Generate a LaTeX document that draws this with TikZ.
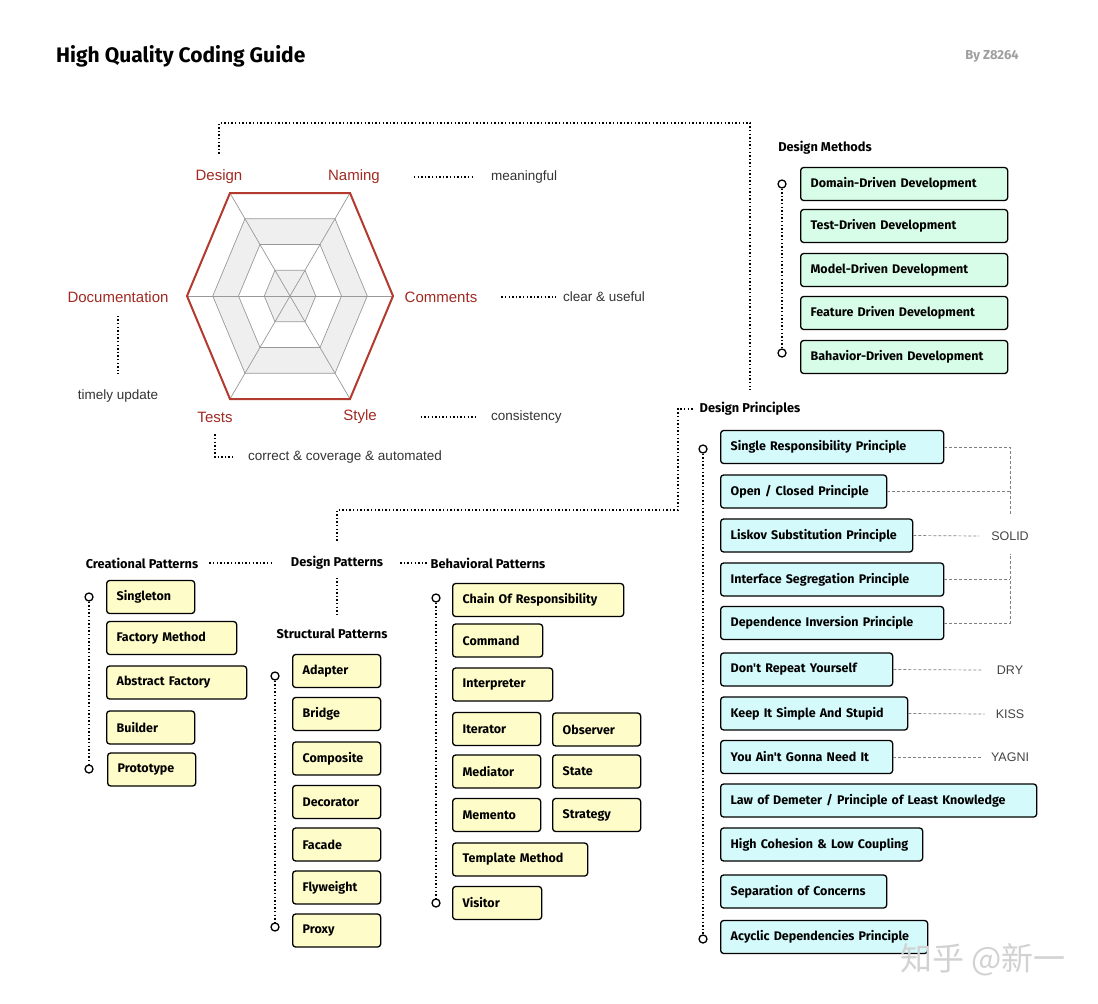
\documentclass[tikz,border=0pt]{standalone}
\usepackage{fontspec}
\setmainfont{Liberation Sans}
\newfontfamily\handfont{Fira Sans}
\newfontfamily\cjkfont{Noto Sans CJK SC}
\usetikzlibrary{positioning, calc}

\definecolor{hexred}{HTML}{B23A2F}
\definecolor{labred}{HTML}{A02A22}
\definecolor{hexfill}{HTML}{EFEFEF}
\definecolor{greenfill}{HTML}{D7FCE7}
\definecolor{cyanfill}{HTML}{D4FAFC}
\definecolor{yellowfill}{HTML}{FEFCC9}
\definecolor{notegray}{HTML}{333333}
\definecolor{taggray}{HTML}{444444}

\newcommand{\boxfont}{\handfont\bfseries\fontsize{12.5}{14}\selectfont}
\newcommand{\hexring}[1]{(103*#1,0) -- (60*#1,103*#1) -- (-60*#1,103*#1) -- (-103*#1,0) -- (-60*#1,-103*#1) -- (60*#1,-103*#1) -- cycle}

\tikzset{
  card/.style={draw, line width=1.3pt, rounded corners=3pt, anchor=west, minimum height=33pt,
    inner xsep=10pt, inner ysep=0pt, text width=#1, align=left, font=\boxfont},
  method/.style={card=#1, fill=greenfill},
  princ/.style={card=#1, fill=cyanfill},
  pattern/.style={card=#1, fill=yellowfill},
  section/.style={font=\handfont\bfseries\fontsize{12.8}{14}\selectfont, inner sep=2pt},
  hexlab/.style={font=\fontsize{15}{17}\selectfont, text=labred, inner sep=2pt},
  note/.style={font=\fontsize{13.5}{15}\selectfont, text=notegray, inner sep=0pt},
  tag/.style={font=\fontsize{12.5}{14}\selectfont, text=taggray, inner sep=0pt},
  tdot/.style={circle, draw, line width=1.3pt, fill=white, inner sep=0pt, minimum size=8pt},
  dotline/.style={line width=1.4pt, dash pattern=on 1.4pt off 2.2pt},
  dashline/.style={line width=0.7pt, draw=gray, dash pattern=on 3pt off 2pt},
  hexgrid/.style={draw=gray!80, line width=0.7pt}
}

\begin{document}
\begin{tikzpicture}[x=1pt, y=-1pt]
    \useasboundingbox[fill=white] (0,0) rectangle (1098,1004);

    % heading
    \node[font=\handfont\bfseries\fontsize{21}{24}\selectfont, anchor=west, inner sep=0pt] (title) at (56,56) {High Quality Coding Guide};
    \node[font=\handfont\bfseries\fontsize{13}{15}\selectfont, text=gray!75, anchor=east, inner sep=0pt] (by) at (1019,56) {By Z8264};

    % radar
    \begin{scope}[shift={(290,296)}]
        \fill[hexfill] \hexring{0.75};
        \fill[white] \hexring{0.5};
        \fill[hexfill] \hexring{0.25};
        \foreach \f in {0.25,0.5,0.75}
            \draw[hexgrid] \hexring{\f};
        \foreach \px/\py in {103/0, 60/103, -60/103, -103/0, -60/-103, 60/-103}
            \draw[hexgrid] (0,0) -- (\px,\py);
        \draw[hexred, line width=2pt, line join=miter] \hexring{1};
    \end{scope}

    \node[hexlab] (design) at (219,177) {Design};
    \node[hexlab] (naming) at (354,177) {Naming};
    \node[hexlab] (comments) at (441,297) {Comments};
    \node[hexlab] (docu) at (118,297) {Documentation};
    \node[hexlab] (tests) at (215,417) {Tests};
    \node[hexlab] (style) at (360,417) {Style};

    \node[note, anchor=west] (meaning) at (491,177) {meaningful};
    \node[note, anchor=west] (clear) at (563,297) {clear \& useful};
    \node[note, anchor=west] (consist) at (491,417) {consistency};
    \node[note] (timely) at (118,396) {timely update};
    \node[note, anchor=west] (correct) at (248,457) {correct \& coverage \& automated};

    \draw[dotline, shorten <=32pt, shorten >=16pt] (naming.east) -- (meaning.west);
    \draw[dotline, shorten <=22pt, shorten >=7pt] (comments.east) -- (clear.west);
    \draw[dotline, shorten <=42pt, shorten >=15pt] (style.east) -- (consist.west);
    \draw[dotline, shorten <=11pt, shorten >=16pt] (docu.south) -- (timely.north);
    \draw[dotline, shorten <=10pt, shorten >=13pt] (tests.south) |- (correct.west);

    % design methods
    \node[section] (dmeth) at (825,148) {Design Methods};
    \node[method=187] (m1) at (800,184) {Domain-Driven Development};
    \node[method=187] (m2) at (800,226) {Test-Driven Development};
    \node[method=187] (m3) at (800,270) {Model-Driven Development};
    \node[method=187] (m4) at (800,313) {Feature Driven Development};
    \node[method=187] (m5) at (800,357) {Bahavior-Driven Development};
    \node[tdot] (mt) at (782,184) {};
    \node[tdot] (mb) at (782,353) {};
    \draw[dotline] (mt) -- (mb);

    % design principles
    \node[section] (dprinc) at (750,409) {Design Principles};
    \coordinate (topturn) at (750,123);
    \draw[dotline, shorten <=14pt, shorten >=10pt] (design.north) |- (topturn) -- (dprinc.north);

    \node[princ=203] (p1) at (720,447) {Single Responsibility Principle};
    \node[princ=146] (p2) at (720,491.5) {Open / Closed Principle};
    \node[princ=172] (p3) at (720,535.5) {Liskov Substitution Principle};
    \node[princ=203] (p4) at (720,579.5) {Interface Segregation Principle};
    \node[princ=203] (p5) at (720,623) {Dependence Inversion Principle};
    \node[princ=152] (p6) at (720,669.5) {Don't Repeat Yourself};
    \node[princ=167] (p7) at (720,713.5) {Keep It Simple And Stupid};
    \node[princ=152] (p8) at (720,757) {You Ain't Gonna Need It};
    \node[princ=296] (p9) at (720,800.5) {Law of Demeter / Principle of Least Knowledge};
    \node[princ=182] (p10) at (720,844.5) {High Cohesion \& Low Coupling};
    \node[princ=146] (p11) at (720,891.5) {Separation of Concerns};
    \node[princ=187] (p12) at (720,937) {Acyclic Dependencies Principle};
    \node[tdot] (pt) at (703,449) {};
    \node[tdot] (pb) at (703,939) {};
    \draw[dotline] (pt) -- (pb);

    \node[tag] (solid) at (1010,536) {SOLID};
    \node[tag] (dry) at (1010,670) {DRY};
    \node[tag] (kiss) at (1010,714) {KISS};
    \node[tag] (yagni) at (1010,757) {YAGNI};
    \draw[dashline] (p1.east) -| ([yshift=17pt]solid.north);
    \draw[dashline] (p2.east) -- (p2.east -| solid.north);
    \draw[dashline] (p3.east) -- ([xshift=-12pt]solid.west);
    \draw[dashline] (p5.east) -| ([yshift=-13pt]solid.south);
    \draw[dashline] (p4.east) -- (p4.east -| solid.south);
    \draw[dashline] (p6.east) -- ([xshift=-15pt]dry.west);
    \draw[dashline] (p7.east) -- ([xshift=-11pt]kiss.west);
    \draw[dashline] (p8.east) -- ([xshift=-9pt]yagni.west);

    % design patterns
    \node[section] (dpat) at (337,563) {Design Patterns};
    \node[section] (creat) at (142,563) {Creational Patterns};
    \node[section] (behav) at (488,563) {Behavioral Patterns};
    \node[section] (struct) at (332,634) {Structural Patterns};
    \coordinate (midturn) at (678,510);
    \draw[dotline, shorten <=5pt, shorten >=12pt] (dprinc.west) -| (midturn) -| (dpat.north);
    \draw[dotline, shorten <=9pt, shorten >=15pt] (creat.east) -- (dpat.west);
    \draw[dotline, shorten <=15pt] (dpat.east) -- (behav.west);
    \draw[dotline, shorten <=6pt, shorten >=11pt] (dpat.south) -- (dpat.south |- struct.north);

    \node[pattern=68] (c1) at (106,597) {Singleton};
    \node[pattern=110] (c2) at (106,638) {Factory Method};
    \node[pattern=120] (c3) at (106,682.5) {Abstract Factory};
    \node[pattern=68] (c4) at (106,727.5) {Builder};
    \node[pattern=68] (c5) at (107,769.5) {Prototype};
    \node[tdot] (ct) at (89,597) {};
    \node[tdot] (cb) at (89,769) {};
    \draw[dotline] (ct) -- (cb);

    \node[pattern=68] (s1) at (292,671) {Adapter};
    \node[pattern=68] (s2) at (292,714) {Bridge};
    \node[pattern=68] (s3) at (292,758.5) {Composite};
    \node[pattern=68] (s4) at (292,802) {Decorator};
    \node[pattern=68] (s5) at (292,844.5) {Facade};
    \node[pattern=68] (s6) at (292,887.5) {Flyweight};
    \node[pattern=68] (s7) at (292,930.5) {Proxy};
    \node[tdot] (st) at (275,676) {};
    \node[tdot] (sb) at (275,927) {};
    \draw[dotline] (st) -- (sb);

    \node[pattern=151] (b1) at (452,600) {Chain Of Responsibility};
    \node[pattern=70] (b2) at (452,640.5) {Command};
    \node[pattern=80] (b3) at (452,684.5) {Interpreter};
    \node[pattern=68] (b4) at (452,729) {Iterator};
    \node[pattern=68] (b5) at (452,771.5) {Mediator};
    \node[pattern=68] (b6) at (452,815) {Memento};
    \node[pattern=115] (b7) at (452,859.5) {Template Method};
    \node[pattern=69] (b8) at (452,903) {Visitor};
    \node[pattern=68] (b9) at (552,729.5) {Observer};
    \node[pattern=68] (b10) at (552,771.5) {State};
    \node[pattern=68] (b11) at (552,815) {Strategy};
    \node[tdot] (bt) at (436,598) {};
    \node[tdot] (bb) at (436,903) {};
    \draw[dotline] (bt) -- (bb);

    % watermark
    \node[font=\cjkfont\fontsize{32}{34}\selectfont, text=gray!35, inner sep=0pt] (mark) at (983,960) {知乎 @新一};
\end{tikzpicture}
\end{document}
